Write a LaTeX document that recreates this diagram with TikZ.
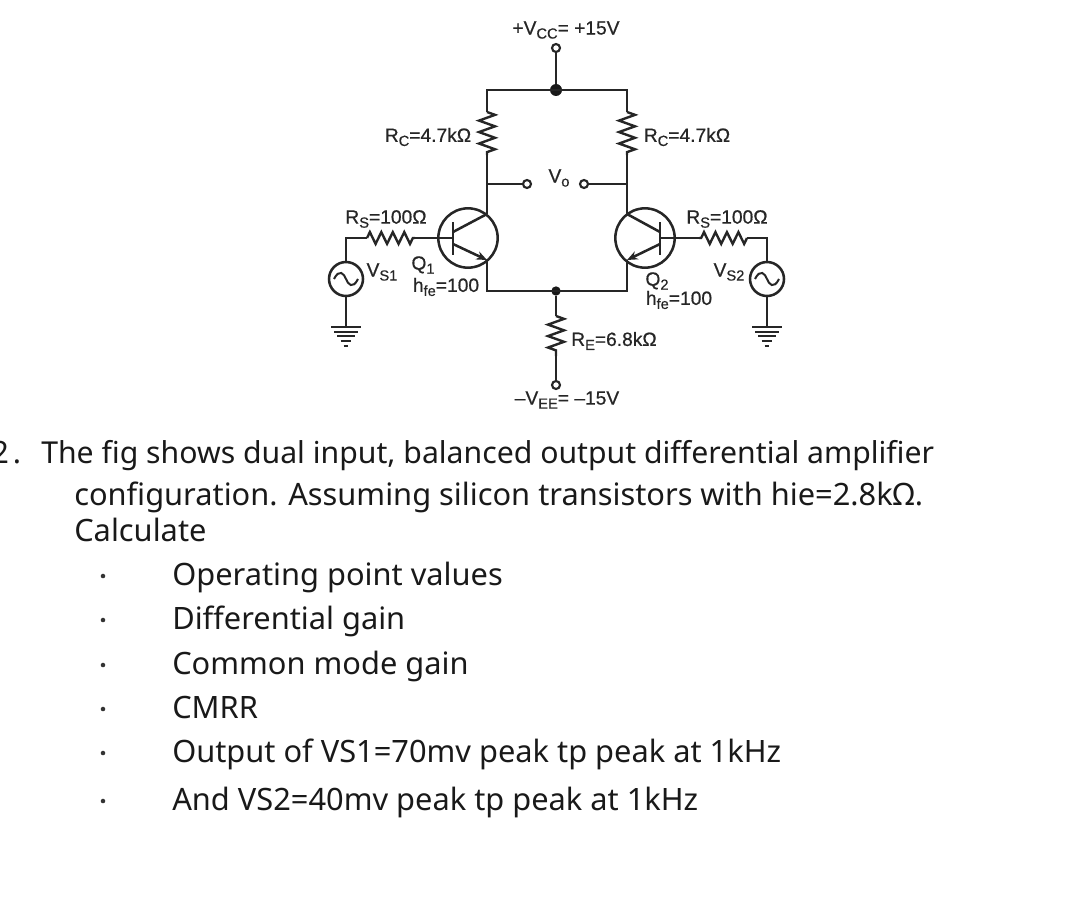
\documentclass[tikz,border=0pt]{standalone}
\usepackage{fontspec}
\setmainfont{Noto Sans}
\newfontfamily\cirfont[FakeBold=0.6]{Liberation Sans}
\usetikzlibrary{decorations.pathmorphing,arrows.meta}
\newcommand{\sbs}[1]{\raisebox{-0.4ex}{\fontsize{11pt}{12pt}\selectfont #1}}
\tikzset{
  x=0.75pt,y=-0.75pt,
  wire/.style={line width=1.9pt,black!85},
  res/.style={line width=1.8pt,black!85,decorate,decoration={zigzag,amplitude=6pt,segment length=8.6pt}},
  ress/.style={line width=1.8pt,black!85,decorate,decoration={zigzag,amplitude=4.4pt,segment length=8.6pt}},
  dot/.style={circle,fill=black!90,inner sep=0pt,minimum size=9pt},
  term/.style={circle,draw=black!85,line width=1.6pt,fill=white,inner sep=0pt,minimum size=6pt},
  trans/.style={circle,draw=black!85,line width=1.9pt,inner sep=0pt,minimum size=44.5pt},
  src/.style={circle,draw=black!85,line width=1.9pt,inner sep=0pt,minimum size=25.5pt},
  lab/.style={font=\cirfont\fontsize{14.4pt}{15pt}\selectfont,inner sep=0pt,text=black!85},
  txt/.style={anchor=base west,inner sep=0pt,font=\fontsize{23.1pt}{24pt}\selectfont,text=black!90},
  bul/.style={circle,fill=black!80,inner sep=0pt,minimum size=3.4pt},
  earrow/.style={wire,-{Stealth[length=8pt,width=6.5pt]}},
}
\newcommand{\gnd}[1]{%
  \draw[line width=1.3pt,black!85] ([xshift=-11pt]#1) -- ([xshift=11pt]#1);
  \draw[line width=1.3pt,black!85] ([xshift=-9pt,yshift=-3.5pt]#1) -- ([xshift=9pt,yshift=-3.5pt]#1);
  \draw[line width=1.3pt,black!85] ([xshift=-6.5pt,yshift=-7pt]#1) -- ([xshift=6.5pt,yshift=-7pt]#1);
  \draw[line width=1.3pt,black!85] ([xshift=-4pt,yshift=-10.5pt]#1) -- ([xshift=4pt,yshift=-10.5pt]#1);
  \draw[line width=1.3pt,black!85] ([xshift=-1.8pt,yshift=-14pt]#1) -- ([xshift=1.8pt,yshift=-14pt]#1);}
\newcommand{\sine}[1]{%
  \draw[line width=1.5pt,black!85] ([xshift=-9pt]#1) .. controls ([xshift=-5pt,yshift=8pt]#1) and ([xshift=-1.5pt,yshift=4pt]#1) .. (#1) .. controls ([xshift=1.5pt,yshift=-4pt]#1) and ([xshift=5pt,yshift=-8pt]#1) .. ([xshift=9pt]#1);}
\begin{document}
\begin{tikzpicture}
\useasboundingbox (0,0) rectangle (1080,920);
% nodes
\node[term] (vcc) at (556,48) {};
\node[dot] (top) at (556,90) {};
\coordinate (tl) at (487,90);
\coordinate (tr) at (627,90);
\coordinate (rc1a) at (487,112);
\coordinate (rc1b) at (487,155);
\coordinate (rc2a) at (627,112);
\coordinate (rc2b) at (627,155);
\coordinate (o1) at (487,184);
\coordinate (o2) at (627,184);
\node[term] (vo1) at (527,184) {};
\node[term] (vo2) at (584,184) {};
% transistors
\node[trans] (q1) at (468,238) {};
\node[trans] (q2) at (645,238) {};
\coordinate (c1) at (487,214);
\coordinate (e1) at (487,260);
\coordinate (c2) at (627,214);
\coordinate (e2) at (627,260);
\coordinate (b1) at (453,238);
\coordinate (b2) at (660,238);
\coordinate (b1t) at (453,222);
\coordinate (b1b) at (453,255);
\coordinate (b2t) at (660,222);
\coordinate (b2b) at (660,255);
\coordinate (b1c) at (453,232);
\coordinate (b1e) at (453,244);
\coordinate (b2c) at (660,232);
\coordinate (b2e) at (660,244);
% bottom
\coordinate (bl) at (487,291);
\coordinate (br) at (627,291);
\node[dot,minimum size=7pt] (bot) at (556,291) {};
\coordinate (rea) at (556,316);
\coordinate (reb) at (556,356);
\node[term] (vee) at (556,385) {};
% sources
\node[src] (s1) at (346,279) {};
\node[src] (s2) at (767,279) {};
\coordinate (s1t) at (346,238);
\coordinate (s2t) at (767,238);
\coordinate (rs1a) at (367,238);
\coordinate (rs1b) at (415,238);
\coordinate (rs2a) at (699,238);
\coordinate (rs2b) at (747,238);
\coordinate (g1) at (346,327);
\coordinate (g2) at (767,327);
% wires
\draw[wire] (vcc) -- (top);
\draw[wire] (rc1a) -- (tl) -- (tr) -- (rc2a);
\draw[res] (rc1a) -- (rc1b);
\draw[res] (rc2a) -- (rc2b);
\draw[wire] (rc1b) -- (c1);
\draw[wire] (rc2b) -- (c2);
\draw[wire] (o1) -- (vo1);
\draw[wire] (o2) -- (vo2);
\draw[wire] (b1c) -- (c1);
\draw[wire] (b2c) -- (c2);
\draw[earrow] (b1e) -- (e1);
\draw[earrow] (b2e) -- (e2);
\draw[wire,line width=2.2pt] (b1t) -- (b1b);
\draw[wire,line width=2.2pt] (b2t) -- (b2b);
\draw[wire] (e1) -- (bl) -- (br) -- (e2);
\draw[wire] (bot) -- (rea);
\draw[res] (rea) -- (reb);
\draw[wire] (reb) -- (vee);
\draw[wire] (s1) -- (s1t) -- (rs1a);
\draw[ress] (rs1a) -- (rs1b);
\draw[wire] (rs1b) -- (b1);
\draw[wire] (s2) -- (s2t) -- (rs2b);
\draw[ress] (rs2b) -- (rs2a);
\draw[wire] (rs2a) -- (b2);
\draw[wire] (s1) -- (g1);
\draw[wire] (s2) -- (g2);
\gnd{g1}
\gnd{g2}
\sine{s1.center}
\sine{s2.center}
% circuit labels
\node[lab] (lvcc) at (566,30) {+V\sbs{CC}= +15V};
\node[lab] (lrc1) at (428,137) {R\sbs{C}=4.7kΩ};
\node[lab] (lrc2) at (687,137) {R\sbs{C}=4.7kΩ};
\node[lab] (lvo) at (559,178) {V\sbs{o}};
\node[lab] (lrs1) at (386,219) {R\sbs{S}=100Ω};
\node[lab] (lrs2) at (727,219) {R\sbs{S}=100Ω};
\node[lab] (lvs1) at (382,272) {V\sbs{S1}};
\node[lab] (lvs2) at (729,272) {V\sbs{S2}};
\node[lab] (lq1) at (423,265) {Q\sbs{1}};
\node[lab] (lq2) at (657,281) {Q\sbs{2}};
\node[lab] (lh1) at (446,287) {h\sbs{fe}=100};
\node[lab] (lh2) at (679,300) {h\sbs{fe}=100};
\node[lab] (lre) at (614,341) {R\sbs{E}=6.8kΩ};
\node[lab] (lvee) at (567,400) {–V\sbs{EE}= –15V};
% question text
\node[txt] (n) at (-9,463) {2\kern3pt.};
\node[txt,font=\fontsize{22.65pt}{24pt}\selectfont] (l1) at (41,463) {The fig shows dual input, balanced output differential amplifier};
\node[txt] (l2) at (74,505) {configuration. Assuming silicon transistors with hie=2.8kΩ.};
\node[txt] (l3) at (74,541) {Calculate};
\node[txt] (i1) at (172,585) {Operating point values};
\node[txt] (i2) at (172,629) {Differential gain};
\node[txt] (i3) at (172,674) {Common mode gain};
\node[txt] (i4) at (172,718) {CMRR};
\node[txt] (i5) at (172,762) {Output of VS1=70mv peak tp peak at 1kHz};
\node[txt] (i6) at (172,810) {And VS2=40mv peak tp peak at 1kHz};
\node[bul] (d1) at (103,576) {};
\node[bul] (d2) at (103,620) {};
\node[bul] (d3) at (103,665) {};
\node[bul] (d4) at (103,709) {};
\node[bul] (d5) at (103,753) {};
\node[bul] (d6) at (103,801) {};
\end{tikzpicture}
\end{document}
